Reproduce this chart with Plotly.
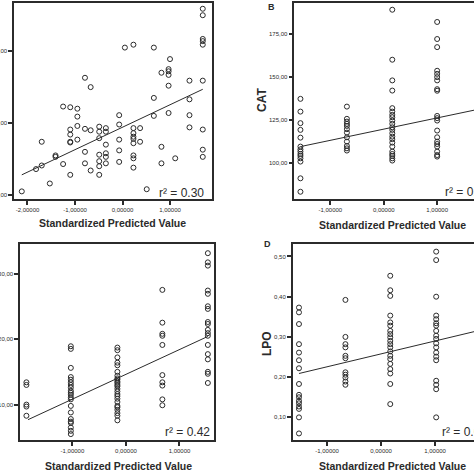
import plotly.graph_objects as go

# ---------------- data ----------------
# Panel A (scattered predicted values)
a_x = [1.69]*9 + [1.41]*4 + [1.0] + [0.97]*5 + [0.82]*3 + [1.11] + [0.66]*3 + [0.51] \
    + [0.23]*9 + [0.05] + [0.37]*2 + [-0.07]*5 + [-0.35]*6 + [-0.49]*7 + [-0.67]*3 \
    + [-0.79]*4 + [-0.95]*4 + [-1.10]*6 + [-1.25]*2 + [-1.41]*2 + [-1.53] + [-1.70]*2 + [-1.82] + [-2.12]
a_y = [25.9, 25.0, 21.7, 21.4, 20.9, 15.9, 9.1, 6.3, 5.3,
       15.9, 13.3, 11.1, 9.4,
       18.9,
       17.5, 17.2, 16.7, 15.2, 11.4,
       17.0, 6.7, 4.4,
       5.1,
       20.5, 13.5, 11.0,
       0.8,
       20.9, 9.3, 8.6, 8.1, 7.8, 7.2, 5.5, 5.1, 3.8,
       20.5,
       9.3, 7.4,
       11.1, 9.8, 7.7, 6.2, 4.6,
       9.3, 8.8, 7.0, 5.8, 5.3, 4.4,
       9.5, 8.8, 7.9, 5.6, 4.7, 4.0, 2.8,
       15.0, 9.0, 3.4,
       16.3, 9.2, 6.0, 4.4,
       12.0, 10.9, 9.6, 7.7,
       12.2, 9.1, 8.4, 7.4, 7.3, 2.8,
       12.3, 4.3,
       5.5, 5.3,
       1.6,
       7.4, 4.1,
       3.6,
       0.5]
a_fit_x = [-2.12, 1.69]
a_fit_y = [2.8, 14.7]
a_yticks = [0, 10, 20]
a_yticklabels = ["0,00", "10,00", "20,00"]
a_xticks = [-2, -1, 0, 1]
a_xticklabels = ["-2,00000", "-1,00000", "0,00000", "1,00000"]

# Panel B (CAT)
b_cols = [-1.56, -0.69, 0.16, 1.0]
b_vals = [
    [137.4, 130.0, 123.3, 119.4, 114.9, 109.7, 108.1, 106.8, 105.4, 104.3, 102.9, 101.0, 91.3, 83.5],
    [132.9, 125.8, 124.2, 122.9, 121.7, 119.8, 117.8, 115.1, 112.6, 110.1, 108.7, 107.4],
    [189.1, 160.1, 148.1, 142.2, 132.0, 130.0, 128.1, 126.7, 124.8, 122.9, 120.9, 119.4, 117.4,
     115.5, 114.0, 112.0, 109.7, 106.8, 105.4, 104.3, 102.9, 101.6],
    [182.0, 172.1, 167.4, 153.7, 151.9, 150.0, 148.1, 143.0, 142.1, 127.5, 126.2, 124.8, 119.0,
     115.1, 112.6, 111.2, 109.7, 106.8, 104.8, 103.9],
]
b_fit_x = [-1.56, 1.75]
b_fit_y = [109.7, 131.2]
b_yticks = [100, 125, 150, 175]
b_yticklabels = ["100,00", "125,00", "150,00", "175,00"]
b_xticks = [-1, 0, 1]
b_xticklabels = ["-1,00000", "0,00000", "1,00000"]

# Panel C
c_cols = [-1.86, -1.03, -0.16, 0.68, 1.53]
c_vals = [
    [13.4, 13.0, 10.0, 9.7, 8.3],
    [18.9, 18.5, 15.6, 14.2, 13.8, 13.4, 13.0, 12.6, 12.1, 11.8, 11.5, 11.1, 10.8, 9.8, 8.8,
     7.8, 7.4, 7.2, 6.5, 6.0, 5.5],
    [18.7, 18.3, 17.2, 16.4, 16.0, 15.0, 14.4, 14.0, 13.8, 13.5, 13.3, 13.0, 12.8, 12.4, 12.0,
     11.6, 11.3, 10.9, 10.4, 9.8, 9.6, 9.2, 8.7, 8.3, 7.6],
    [27.5, 22.5, 20.8, 20.5, 19.1, 14.5, 13.4, 12.9, 10.8, 9.9],
    [33.1, 31.7, 31.2, 27.4, 26.9, 25.0, 24.6, 22.6, 22.3, 21.4, 20.9, 20.5, 19.1, 17.7, 16.9,
     15.0, 14.7, 13.3],
]
c_fit_x = [-1.83, 1.53]
c_fit_y = [7.7, 20.4]
c_yticks = [10, 20, 30]
c_yticklabels = ["10,00", "20,00", "30,00"]
c_xticks = [-1, 0, 1]
c_xticklabels = ["-1,00000", "0,00000", "1,00000"]

# Panel D (LPO)
d_cols = [-1.52, -0.66, 0.17, 1.02]
d_vals = [
    [0.373, 0.361, 0.332, 0.282, 0.261, 0.242, 0.222, 0.183, 0.156, 0.150, 0.141, 0.135, 0.127,
     0.121, 0.100, 0.060],
    [0.392, 0.300, 0.282, 0.274, 0.253, 0.247, 0.212, 0.206, 0.199, 0.189, 0.181],
    [0.452, 0.416, 0.402, 0.353, 0.336, 0.328, 0.315, 0.307, 0.299, 0.290, 0.282, 0.274, 0.264,
     0.253, 0.245, 0.233, 0.220, 0.209, 0.183, 0.133],
    [0.512, 0.491, 0.400, 0.353, 0.344, 0.334, 0.328, 0.315, 0.303, 0.295, 0.284, 0.274, 0.261,
     0.251, 0.242, 0.191, 0.181, 0.170, 0.100],
]
d_fit_x = [-1.52, 1.75]
d_fit_y = [0.209, 0.314]
d_yticks = [0.1, 0.2, 0.3, 0.4, 0.5]
d_yticklabels = ["0,10", "0,20", "0,30", "0,40", "0,50"]
d_xticks = [-1, 0, 1]
d_xticklabels = ["-1,00000", "0,00000", "1,00000"]

r2_labels = ["r² = 0.30", "r² = 0.08", "r² = 0.42", "r² = 0.09"]
x_title = "Standardized Predicted Value"


def expand(cols, vals):
    xs, ys = [], []
    for c, v in zip(cols, vals):
        xs += [c] * len(v)
        ys += v
    return xs, ys


b_x, b_y = expand(b_cols, b_vals)
c_x, c_y = expand(c_cols, c_vals)
d_x, d_y = expand(d_cols, d_vals)

# ---------------- figure ----------------
W = H = 474
INK = "#2b2b2b"
FONT = "Liberation Sans, Arial, sans-serif"

fig = go.Figure()
marker = dict(symbol="circle-open", size=5, color=INK, line=dict(width=1, color=INK))

panels = [
    ("", a_x, a_y, a_fit_x, a_fit_y),
    ("2", b_x, b_y, b_fit_x, b_fit_y),
    ("3", c_x, c_y, c_fit_x, c_fit_y),
    ("4", d_x, d_y, d_fit_x, d_fit_y),
]
for suf, xs, ys, fx, fy in panels:
    fig.add_trace(go.Scatter(x=xs, y=ys, mode="markers", marker=marker,
                             xaxis="x" + suf, yaxis="y" + suf, showlegend=False, cliponaxis=False))
    fig.add_trace(go.Scatter(x=fx, y=fy, mode="lines", line=dict(color=INK, width=1),
                             xaxis="x" + suf, yaxis="y" + suf, showlegend=False))


def px(v):
    return v / W


def py(v):
    return 1 - v / H


tickfont = dict(family=FONT, size=6, color=INK)


def axis(domain, rng, tv, tt, anchor, mirror):
    return dict(domain=domain, range=rng, tickmode="array", tickvals=tv, ticktext=tt,
                showgrid=False, zeroline=False, showline=True, linecolor=INK, linewidth=1.5,
                mirror=mirror, ticks="outside", ticklen=4, tickwidth=1.5, tickcolor=INK,
                tickfont=tickfont, anchor=anchor, automargin=False)


top_row = [py(199), py(3)]
bot_row = [py(440), py(244)]

fig.update_layout(
    width=W, height=H, margin=dict(l=0, r=0, t=0, b=0, autoexpand=False),
    paper_bgcolor="white", plot_bgcolor="white",
    font=dict(family=FONT, color=INK),
    xaxis=axis([px(14), px(212)], [-2.284, 1.884], a_xticks, a_xticklabels, "y", True),
    yaxis=axis(top_row, [-0.56, 26.7], a_yticks, a_yticklabels, "x", True),
    xaxis2=axis([px(294.3), 1], [-1.675, 1.69], b_xticks, b_xticklabels, "y2", True),
    yaxis2=axis(top_row, [79.3, 193.0], b_yticks, b_yticklabels, "x2", False),
    xaxis3=axis([px(20), px(214)], [-1.98, 1.645], c_xticks, c_xticklabels, "y3", True),
    yaxis3=axis(bot_row, [4.6, 34.5], c_yticks, c_yticklabels, "x3", True),
    xaxis4=axis([px(292.7), 1], [-1.636, 1.72], d_xticks, d_xticklabels, "y4", True),
    yaxis4=axis(bot_row, [0.0437, 0.531], d_yticks, d_yticklabels, "x4", False),
)

ann = []
# x-axis titles
for cx, cy in [(112, 223), (392, 225), (118, 466), (392, 466)]:
    ann.append(dict(x=px(cx), y=py(cy), xref="paper", yref="paper", text="<b>" + x_title + "</b>",
                    showarrow=False, xanchor="center", yanchor="middle",
                    font=dict(family=FONT, size=10.5, color=INK)))
# y-axis titles
for cx, cy, t in [(262, 100, "CAT"), (267, 344, "LPO")]:
    ann.append(dict(x=px(cx), y=py(cy), xref="paper", yref="paper", text="<b>" + t + "</b>",
                    showarrow=False, textangle=-90, xanchor="center", yanchor="middle",
                    font=dict(family=FONT, size=12, color=INK)))
# panel letters
for cx, cy, t in [(271, 7, "B"), (267, 244, "D")]:
    ann.append(dict(x=px(cx), y=py(cy), xref="paper", yref="paper", text="<b>" + t + "</b>",
                    showarrow=False, xanchor="center", yanchor="middle",
                    font=dict(family=FONT, size=9, color=INK)))
# r² labels
for (lx, ly), t in zip([(157, 193), (443, 192), (163, 432), (440, 432)], r2_labels):
    ann.append(dict(x=px(lx), y=py(ly), xref="paper", yref="paper", text=t,
                    showarrow=False, xanchor="left", yanchor="middle",
                    font=dict(family=FONT, size=12, color=INK)))
fig.update_layout(annotations=ann)

fig.write_html("out.html")
